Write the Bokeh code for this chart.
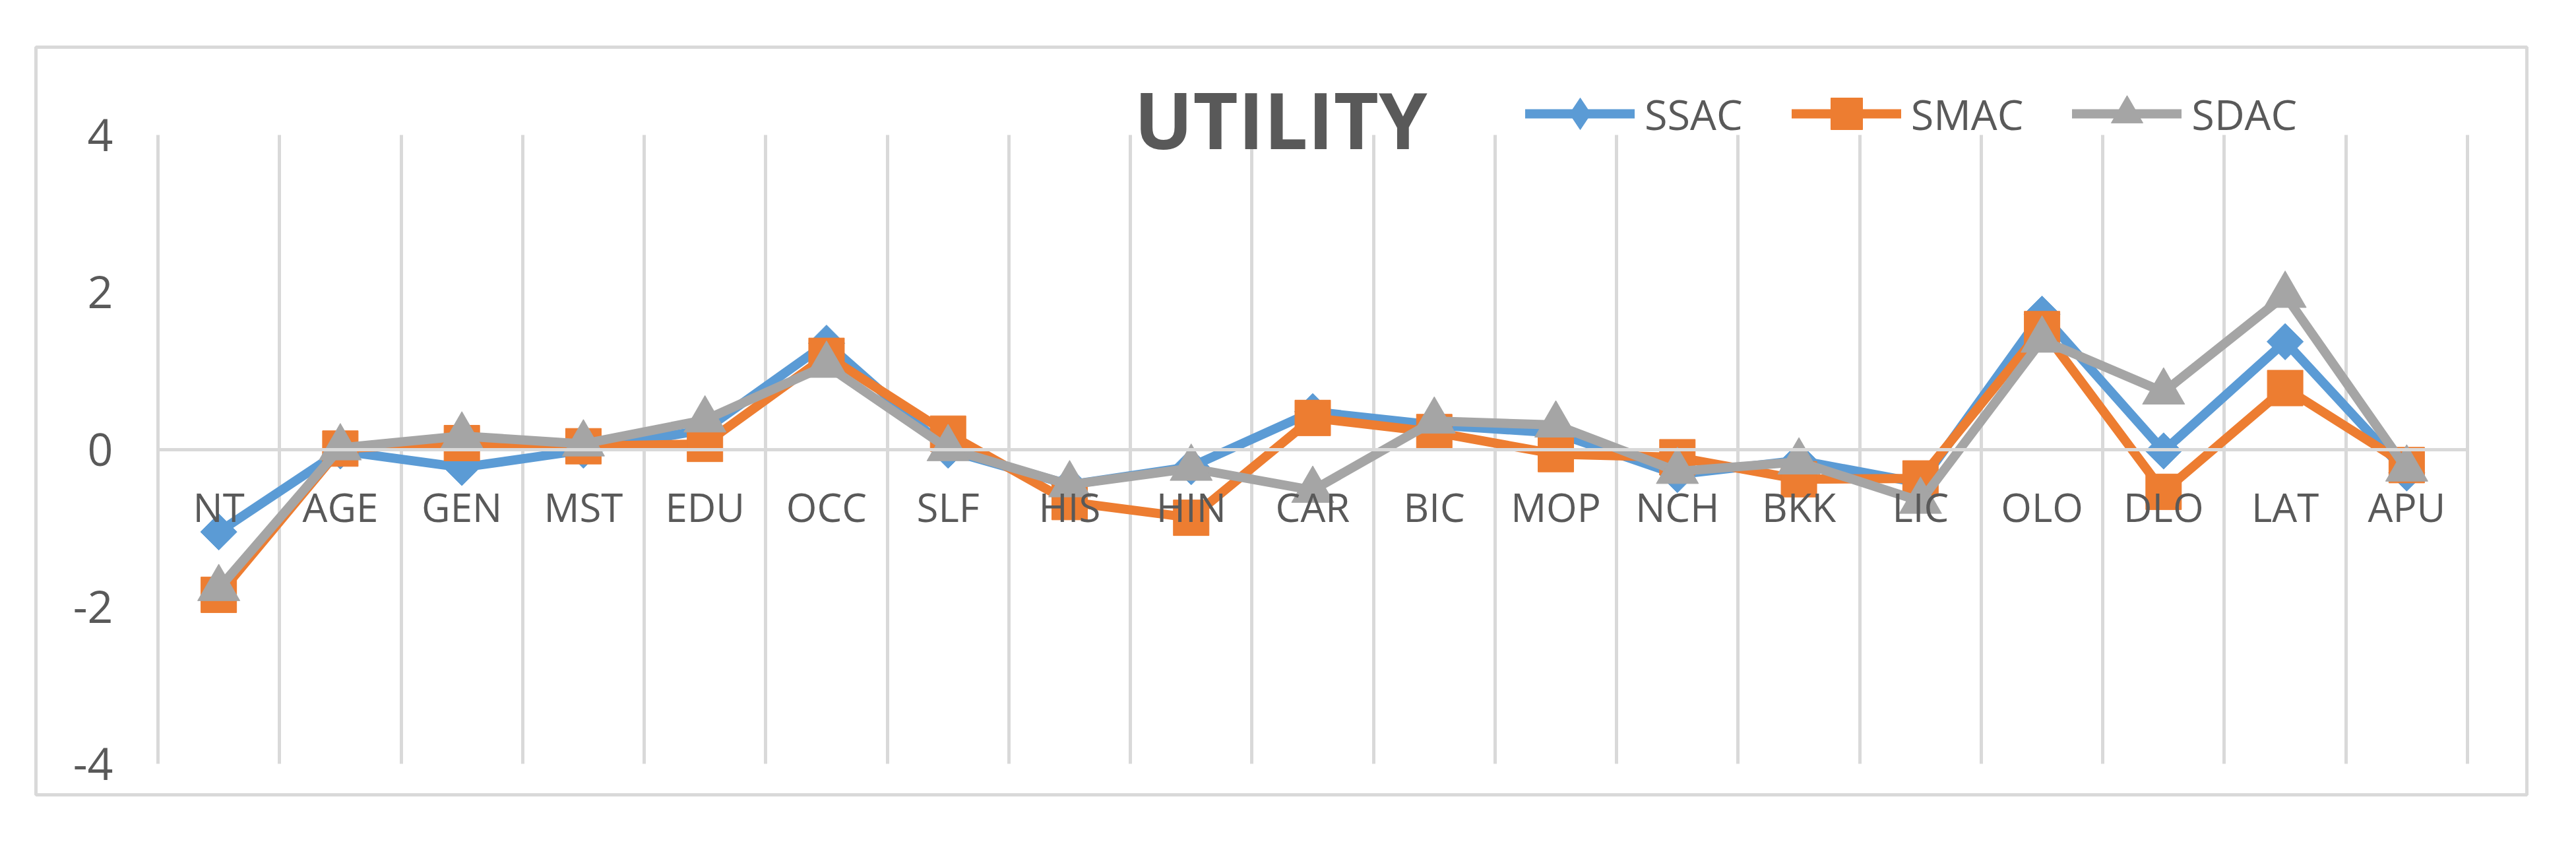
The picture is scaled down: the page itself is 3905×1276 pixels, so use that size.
from bokeh.plotting import figure
from bokeh.models import (Range1d, FixedTicker, Legend, LegendItem, Label, ColumnDataSource)
from bokeh.embed import file_html
from bokeh.resources import INLINE
import math

# ---- data ----
categories = ["NT", "AGE", "GEN", "MST", "EDU", "OCC", "SLF", "HIS", "HIN", "CAR",
              "BIC", "MOP", "NCH", "BKK", "LIC", "OLO", "DLO", "LAT", "APU"]
ssac = [-1.05, -0.02, -0.23, -0.01, 0.25, 1.35, -0.01, -0.45, -0.22, 0.48,
        0.31, 0.21, -0.32, -0.14, -0.43, 1.72, -0.02, 1.37, -0.30]
smac = [-1.85, 0.01, 0.08, 0.04, 0.07, 1.19, 0.20, -0.67, -0.87, 0.40,
        0.22, -0.06, -0.10, -0.38, -0.37, 1.53, -0.54, 0.78, -0.20]
sdac = [-1.77, 0.02, 0.17, 0.07, 0.375, 1.07, 0.01, -0.45, -0.24, -0.52,
        0.36, 0.31, -0.28, -0.16, -0.66, 1.39, 0.73, 1.96, -0.25]
series_names = ["SSAC", "SMAC", "SDAC"]
y_ticks = [-4, -2, 0, 2, 4]
chart_title = "UTILITY"

# ---- styles / layout ----
COLORS = ["#5B9BD5", "#ED7D31", "#A5A5A5"]
TEXT = "#595959"
GRID = "#D9D9D9"
FONT = "Open Sans"

W, H = 3889, 1260
# frame == chart border box (figure pixels)
FL, FR, FT, FB = 54, 3830, 71, 1204
PLOT_L, PLOT_R, PLOT_T, PLOT_B = 239, 3740, 204, 1157   # plot area inside the border

n = len(categories)
ymin, ymax = min(y_ticks), max(y_ticks)
cat_w = (PLOT_R - PLOT_L) / n
unit_h = (PLOT_B - PLOT_T) / (ymax - ymin)
x_start = -(PLOT_L - FL) / cat_w
x_end = n + (FR - PLOT_R) / cat_w
y_end = ymax + (PLOT_T - FT) / unit_h
y_start = ymin - (FB - PLOT_B) / unit_h

xpos = [i + 0.5 for i in range(n)]
source = ColumnDataSource(dict(x=xpos, cat=categories, SSAC=ssac, SMAC=smac, SDAC=sdac))

p = figure(width=W, height=H, output_backend="svg", toolbar_location=None,
           x_range=Range1d(x_start, x_end), y_range=Range1d(y_start, y_end),
           min_border_left=FL, min_border_right=W - FR,
           min_border_top=FT, min_border_bottom=H - FB)
p.outline_line_color = GRID
p.outline_line_width = 5
p.background_fill_color = "white"
p.border_fill_color = "white"

# vertical grid lines at category boundaries, spanning the value range only
boundaries = list(range(n + 1))
xg = p.xgrid[0]
if "cross_bounds" in xg.properties():
    xg.ticker = FixedTicker(ticks=boundaries)
    xg.bounds = (0, n)
    xg.cross_bounds = (ymin, ymax)
    xg.grid_line_color = GRID
    xg.grid_line_width = 5
else:
    xg.visible = False
    p.segment(x0=boundaries, y0=[ymin] * (n + 1), x1=boundaries, y1=[ymax] * (n + 1),
              line_color=GRID, line_width=5)
p.ygrid.visible = False

# category axis crossing at y = 0
xa = p.xaxis[0]
xa.fixed_location = 0
xa.bounds = (0, n)
xa.ticker = FixedTicker(ticks=xpos)
xa.major_label_overrides = {x: c for x, c in zip(xpos, categories)}
xa.axis_line_color = GRID
xa.axis_line_width = 5
xa.major_tick_line_color = None
xa.minor_tick_line_color = None
xa.major_label_text_font = FONT
xa.major_label_text_font_size = "60px"
xa.major_label_text_color = TEXT
xa.major_label_standoff = 40

ya = p.yaxis[0]
ya.fixed_location = 0
ya.ticker = FixedTicker(ticks=y_ticks)
ya.major_label_overrides = {t: str(t) for t in y_ticks}
ya.axis_line_color = None
ya.major_tick_line_color = None
ya.minor_tick_line_color = None
ya.major_label_text_font = FONT
ya.major_label_text_font_size = "68px"
ya.major_label_text_color = TEXT
ya.major_label_standoff = 62

items = []
markers = [("square", 39, math.pi / 4), ("square", 54, 0), ("triangle", 64, 0)]
legend_markers = ["diamond", "square", "triangle"]
nan = float("nan")
for name, color, (mk, sz, ang), lmk in zip(series_names, COLORS, markers, legend_markers):
    ln = p.line(x="x", y=name, source=source, line_color=color, line_width=14,
                line_join="round", line_cap="round")
    p.scatter(x="x", y=name, source=source, marker=mk, size=sz, angle=ang,
              fill_color=color, line_color=color)
    # legend-only marker (no visible data point)
    key = p.scatter(x=[nan], y=[nan], marker=lmk, size=sz,
                    fill_color=color, line_color=color)
    items.append(LegendItem(label=name, renderers=[ln, key]))

legend = Legend(items=items, orientation="horizontal",
                location=(2312 - FL, FB - 232), glyph_width=166, glyph_height=120,
                label_standoff=15, spacing=74, padding=0, margin=0,
                border_line_color=None, background_fill_alpha=0,
                label_text_font=FONT, label_text_font_size="63px",
                label_text_color=TEXT, label_text_baseline="middle")
p.add_layout(legend, "center")

title = Label(x=1941 - FL, y=FB - 180, x_units="screen", y_units="screen",
              text=chart_title, text_align="center", text_baseline="alphabetic",
              text_font=FONT, text_font_size="118px", text_font_style="bold",
              text_color=TEXT)
p.add_layout(title)

open("out.html", "w").write(file_html(p, INLINE))
